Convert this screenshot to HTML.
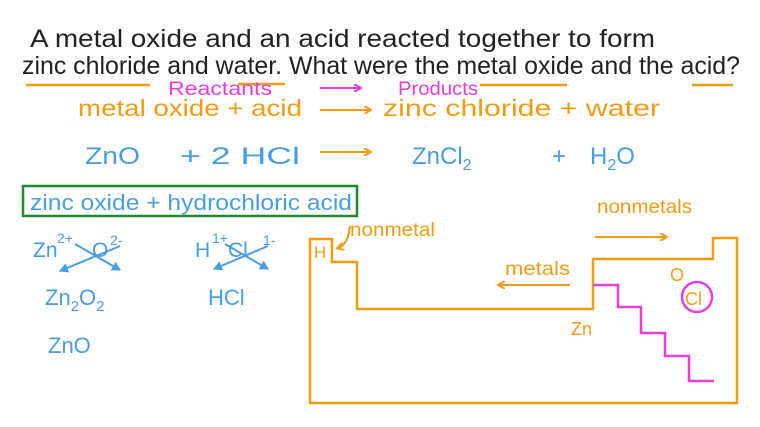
<!DOCTYPE html>
<html><head><meta charset="utf-8"><style>
html,body{margin:0;padding:0;background:#fff;width:760px;height:427px;overflow:hidden}
svg text{font-family:"Liberation Sans",sans-serif}
</style></head><body>
<svg width="760" height="427" viewBox="0 0 760 427" xmlns="http://www.w3.org/2000/svg">
<defs>
<marker id="ao" markerWidth="8" markerHeight="8" refX="6" refY="4" orient="auto" markerUnits="userSpaceOnUse"><path d="M0,0 L7,4 L0,8" fill="none" stroke="#f39c12" stroke-width="2"/></marker>
<marker id="ap" markerWidth="8" markerHeight="8" refX="6" refY="4" orient="auto" markerUnits="userSpaceOnUse"><path d="M0,0 L7,4 L0,8" fill="none" stroke="#e83ee0" stroke-width="2"/></marker>
<marker id="ab" markerWidth="10" markerHeight="10" refX="8" refY="5" orient="auto" markerUnits="userSpaceOnUse"><path d="M0,0 L9,5 L0,10 Z" fill="#4a9ee0"/></marker>
</defs>
<g fill="#222" font-size="25">
<text x="30" y="47" textLength="625" lengthAdjust="spacingAndGlyphs">A metal oxide and an acid reacted together to form</text>
<text x="22" y="74" textLength="718" lengthAdjust="spacingAndGlyphs">zinc chloride and water. What were the metal oxide and the acid?</text>
</g>
<g stroke="#f39c12" stroke-width="2.5" fill="none">
<line x1="26" y1="85" x2="150" y2="85"/><line x1="238" y1="84" x2="285" y2="84"/>
<line x1="480" y1="85" x2="567" y2="85"/><line x1="692" y1="85" x2="733" y2="85"/>
</g>
<g fill="#e83ee0" font-size="19">
<text x="168" y="95" textLength="104" lengthAdjust="spacingAndGlyphs">Reactants</text>
<text x="398" y="95" textLength="80" lengthAdjust="spacingAndGlyphs">Products</text>
</g>
<line x1="320" y1="88" x2="360" y2="88" stroke="#e83ee0" stroke-width="2" marker-end="url(#ap)"/>
<g fill="#f39c12" font-size="23">
<text x="78" y="116" textLength="224" lengthAdjust="spacingAndGlyphs">metal oxide + acid</text>
<text x="383" y="116" textLength="277" lengthAdjust="spacingAndGlyphs">zinc chloride + water</text>
</g>
<line x1="320" y1="110" x2="370" y2="110" stroke="#f39c12" stroke-width="2" marker-end="url(#ao)"/>
<line x1="320" y1="152" x2="370" y2="152" stroke="#f39c12" stroke-width="2" marker-end="url(#ao)"/>
<g fill="#4a9ee0" font-size="24">
<text x="85" y="164" textLength="55" lengthAdjust="spacingAndGlyphs">ZnO</text>
<text x="180" y="164" textLength="120" lengthAdjust="spacingAndGlyphs">+ 2 HCl</text>
<text x="412" y="164">ZnCl<tspan font-size="16" dy="6">2</tspan></text>
<text x="552" y="164">+</text>
<text x="590" y="164">H<tspan font-size="16" dy="6">2</tspan><tspan dy="-6">O</tspan></text>
<text x="30" y="210" font-size="22" textLength="322" lengthAdjust="spacingAndGlyphs">zinc oxide + hydrochloric acid</text>
<text x="33" y="257" font-size="21">Zn</text><text x="57" y="243" font-size="14">2+</text>
<text x="92" y="257" font-size="21">O</text><text x="110" y="245" font-size="14">2-</text>
<text x="195" y="257" font-size="21">H</text><text x="212" y="243" font-size="14">1+</text>
<text x="228" y="257" font-size="21">Cl</text><text x="263" y="245" font-size="14">1-</text>
<text x="45" y="305" font-size="22">Zn<tspan font-size="15" dy="6">2</tspan><tspan dy="-6">O</tspan><tspan font-size="15" dy="6">2</tspan></text>
<text x="208" y="305" font-size="22">HCl</text>
<text x="48" y="353" font-size="22">ZnO</text>
</g>
<rect x="23" y="186" width="334" height="30" fill="none" stroke="#1e8a2e" stroke-width="2.5"/>
<g stroke="#4a9ee0" stroke-width="2" fill="none">
<line x1="75" y1="244" x2="120" y2="270" marker-end="url(#ab)"/>
<line x1="120" y1="246" x2="60" y2="271" marker-end="url(#ab)"/>
<line x1="225" y1="244" x2="268" y2="269" marker-end="url(#ab)"/>
<line x1="268" y1="246" x2="214" y2="269" marker-end="url(#ab)"/>
</g>
<path d="M310,239 L332,239 L332,262 L357,262 L357,309 L593,309 L593,259 L713,259 L713,238 L737,238 L737,403 L310,403 Z" fill="none" stroke="#f39c12" stroke-width="2.5"/>
<path d="M593,285 L618,285 L618,307 L641,307 L641,333 L665,333 L665,356 L689,356 L689,381 L714,381" fill="none" stroke="#e83ee0" stroke-width="2.5"/>
<g fill="#f39c12" font-size="19">
<text x="314" y="258" font-size="17">H</text>
<text x="350" y="236" textLength="85" lengthAdjust="spacingAndGlyphs">nonmetal</text>
<text x="597" y="213" textLength="95" lengthAdjust="spacingAndGlyphs">nonmetals</text>
<text x="505" y="275" textLength="65" lengthAdjust="spacingAndGlyphs">metals</text>
<text x="670" y="281" font-size="18">O</text>
<text x="685" y="305" font-size="18">Cl</text>
<text x="571" y="335" font-size="18">Zn</text>
</g>
<path d="M350,226 Q348,245 338,248" fill="none" stroke="#f39c12" stroke-width="2" marker-end="url(#ao)"/>
<line x1="595" y1="237" x2="666" y2="237" stroke="#f39c12" stroke-width="2" marker-end="url(#ao)"/>
<line x1="570" y1="285" x2="499" y2="285" stroke="#f39c12" stroke-width="2" marker-end="url(#ao)"/>
<circle cx="697" cy="297" r="15" fill="none" stroke="#e83ee0" stroke-width="2.5"/>
</svg>
</body></html>
